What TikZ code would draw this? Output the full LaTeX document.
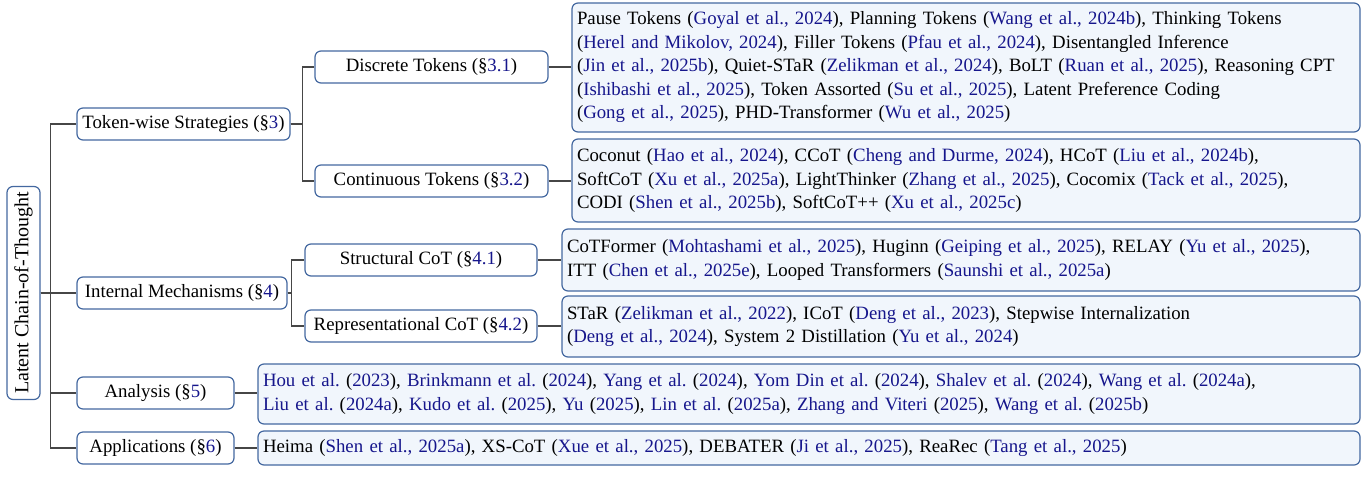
\documentclass[tikz,border=0pt]{standalone}
\usepackage{fontspec}
\setmainfont{Liberation Serif}
\usepackage{xcolor}
\usetikzlibrary{calc}
\frenchspacing
\definecolor{boxline}{RGB}{68,104,160}
\definecolor{leaffill}{RGB}{241,246,252}
\definecolor{linkgray}{RGB}{70,70,70}
\definecolor{citeblue}{RGB}{22,22,140}
\newcommand\pc[1]{(\textcolor{citeblue}{#1})}
\newcommand\tc[2]{\textcolor{citeblue}{#1} (\textcolor{citeblue}{#2})}
\newcommand\sref[1]{(\S\textcolor{citeblue}{#1})}
\tikzset{
	catbox/.style={draw=boxline, line width=0.6pt, rounded corners=3pt, fill=white,
		minimum height=16pt, inner sep=0pt, font=\fontsize{9.4}{11.75}\selectfont},
	rootbox/.style={catbox, rotate=90, minimum width=106.5pt, minimum height=16.5pt,
		font=\fontsize{10}{12}\selectfont},
	leafbox/.style={catbox, fill=leaffill, align=left, inner xsep=2.5pt},
	link/.style={draw=linkgray, line width=0.6pt}
}
\begin{document}
\begin{tikzpicture}[x=0.5pt, y=-0.5pt]
				\useasboundingbox (0,0) rectangle (1364,493);
				
				\node[rootbox] (root) at (23.5,293) {Latent Chain-of-Thought};
				
				\node[catbox, minimum width=106.5pt] (tok) at (183.5,124) {Token-wise Strategies \sref{3}};
				\node[catbox, minimum width=105pt] (mech) at (182,293) {Internal Mechanisms \sref{4}};
				\node[catbox, minimum width=78.5pt] (ana) at (155.5,393) {Analysis \sref{5}};
				\node[catbox, minimum width=78.5pt] (app) at (155.5,448) {Applications \sref{6}};
				
				\node[catbox, minimum width=116.5pt] (disc) at (431.5,67) {Discrete Tokens \sref{3.1}};
				\node[catbox, minimum width=116.5pt] (cont) at (431.5,181) {Continuous Tokens \sref{3.2}};
				\node[catbox, minimum width=116pt] (struc) at (421,260) {Structural CoT \sref{4.1}};
				\node[catbox, minimum width=116pt] (repr) at (421,326) {Representational CoT \sref{4.2}};
				
				\node[leafbox, minimum width=394pt, text width=389pt, minimum height=64.5pt] (discL) at (966,67.5) {%
					Pause Tokens \pc{Goyal et al., 2024}, Planning Tokens \pc{Wang et al., 2024b}, Thinking Tokens\\
					\pc{Herel and Mikolov, 2024}, Filler Tokens \pc{Pfau et al., 2024}, Disentangled Inference\\
					\pc{Jin et al., 2025b}, Quiet-STaR \pc{Zelikman et al., 2024}, BoLT \pc{Ruan et al., 2025}, Reasoning CPT\\
					\pc{Ishibashi et al., 2025}, Token Assorted \pc{Su et al., 2025}, Latent Preference Coding\\
					\pc{Gong et al., 2025}, PHD-Transformer \pc{Wu et al., 2025}};
				\node[leafbox, minimum width=394pt, text width=389pt, minimum height=41.5pt] (contL) at (966,180.5) {%
					Coconut \pc{Hao et al., 2024}, CCoT \pc{Cheng and Durme, 2024}, HCoT \pc{Liu et al., 2024b},\\
					SoftCoT \pc{Xu et al., 2025a}, LightThinker \pc{Zhang et al., 2025}, Cocomix \pc{Tack et al., 2025},\\
					CODI \pc{Shen et al., 2025b}, SoftCoT++ \pc{Xu et al., 2025c}};
				\node[leafbox, minimum width=399pt, text width=394pt, minimum height=31pt] (strucL) at (961,260) {%
					CoTFormer \pc{Mohtashami et al., 2025}, Huginn \pc{Geiping et al., 2025}, RELAY \pc{Yu et al., 2025},\\
					ITT \pc{Chen et al., 2025e}, Looped Transformers \pc{Saunshi et al., 2025a}};
				\node[leafbox, minimum width=399pt, text width=394pt, minimum height=30.5pt] (reprL) at (961,326.5) {%
					STaR \pc{Zelikman et al., 2022}, ICoT \pc{Deng et al., 2023}, Stepwise Internalization\\
					\pc{Deng et al., 2024}, System 2 Distillation \pc{Yu et al., 2024}};
				\node[leafbox, minimum width=551pt, text width=546pt, minimum height=30pt] (anaL) at (809,394) {%
					\tc{Hou et al.}{2023}, \tc{Brinkmann et al.}{2024}, \tc{Yang et al.}{2024}, \tc{Yom Din et al.}{2024}, \tc{Shalev et al.}{2024}, \tc{Wang et al.}{2024a},\\
					\tc{Liu et al.}{2024a}, \tc{Kudo et al.}{2025}, \tc{Yu}{2025}, \tc{Lin et al.}{2025a}, \tc{Zhang and Viteri}{2025}, \tc{Wang et al.}{2025b}};
				\node[leafbox, minimum width=551pt, text width=546pt, minimum height=17pt] (appL) at (809,448) {%
					Heima \pc{Shen et al., 2025a}, XS-CoT \pc{Xue et al., 2025}, DEBATER \pc{Ji et al., 2025}, ReaRec \pc{Tang et al., 2025}};
				
				% trunk from the root
				\foreach \n in {tok,mech,ana,app}
					\draw[link] (root.south) -- ++(10,0) |- (\n.west);
				
				% second level
				\foreach \n in {disc,cont}
					\draw[link] (tok.east) -- ++(12,0) |- (\n.west);
				\foreach \n in {struc,repr}
					\draw[link] (mech.east) -- ++(4,0) |- (\n.west);
				
				% leaves
				\foreach \a/\b in {disc/discL,cont/contL,struc/strucL,repr/reprL,ana/anaL,app/appL}
					\draw[link] (\a.east) -- (\a.east -| \b.west);
			\end{tikzpicture}
\end{document}
